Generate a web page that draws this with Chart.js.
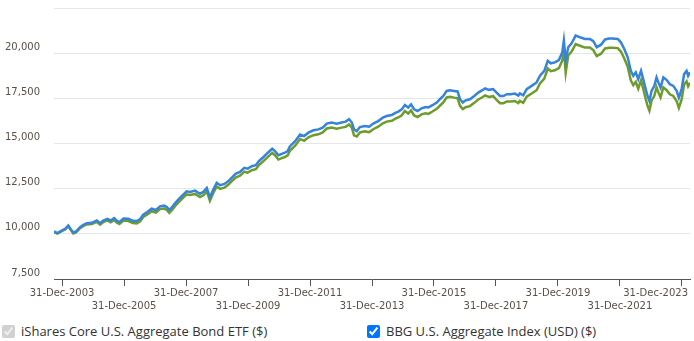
<!DOCTYPE html>
<html>
<head>
<meta charset="utf-8">
<script src="https://cdn.jsdelivr.net/npm/chart.js@4/dist/chart.umd.min.js"></script>
<style>
  body { margin: 0; background: #fff; }
  #wrap { position: relative; width: 694px; height: 318px; }
  .legend-item {
    position: absolute; top: 322px; display: flex; align-items: center;
    font: 13px "Open Sans", sans-serif; color: #333; white-space: nowrap;
  }
  .legend-item input { margin: 0 6px 0 0; width: 13px; height: 13px; }
</style>
</head>
<body>
<div id="wrap"><canvas id="growthChart"></canvas></div>
<label class="legend-item" style="left:2px"><input type="checkbox" checked disabled>iShares Core U.S. Aggregate Bond ETF ($)</label>
<label class="legend-item" style="left:367px"><input type="checkbox" checked>BBG U.S. Aggregate Index (USD) ($)</label>

<script>
/* Growth of 10,000 — dates as decimal years */
const dates = [
  2003.74, 2003.85, 2003.99, 2004.10, 2004.20, 2004.28, 2004.36, 2004.45, 2004.58, 2004.69,
  2004.80, 2004.96, 2005.12, 2005.23, 2005.33, 2005.46, 2005.57, 2005.68, 2005.76, 2005.85,
  2005.98, 2006.14, 2006.28, 2006.41, 2006.52, 2006.62, 2006.75, 2006.89, 2007.03, 2007.16,
  2007.29, 2007.38, 2007.46, 2007.57, 2007.65, 2007.75, 2007.91, 2008.02, 2008.13, 2008.29,
  2008.45, 2008.56, 2008.67, 2008.77, 2008.88, 2008.99, 2009.10, 2009.24, 2009.36, 2009.47,
  2009.60, 2009.74, 2009.88, 2009.99, 2010.12, 2010.25, 2010.35, 2010.49, 2010.64, 2010.78,
  2010.87, 2010.98, 2011.09, 2011.19, 2011.28, 2011.35, 2011.52, 2011.68, 2011.81, 2011.95,
  2012.11, 2012.27, 2012.41, 2012.54, 2012.70, 2012.86, 2013.02, 2013.15, 2013.26, 2013.35,
  2013.42, 2013.51, 2013.61, 2013.77, 2013.91, 2014.04, 2014.20, 2014.35, 2014.47, 2014.64,
  2014.77, 2014.85, 2014.96, 2015.06, 2015.17, 2015.26, 2015.36, 2015.47, 2015.60, 2015.73,
  2015.82, 2015.95, 2016.09, 2016.19, 2016.30, 2016.41, 2016.52, 2016.65, 2016.76, 2016.84,
  2016.93, 2017.02, 2017.16, 2017.30, 2017.43, 2017.56, 2017.65, 2017.77, 2017.91, 2018.02,
  2018.13, 2018.24, 2018.35, 2018.48, 2018.61, 2018.72, 2018.77, 2018.88, 2018.99, 2019.15,
  2019.31, 2019.42, 2019.56, 2019.67, 2019.77, 2019.90, 2020.03, 2020.14, 2020.19, 2020.25,
  2020.33, 2020.44, 2020.57, 2020.71, 2020.87, 2021.03, 2021.14, 2021.25, 2021.39, 2021.52,
  2021.65, 2021.75, 2021.93, 2022.03, 2022.14, 2022.25, 2022.35, 2022.43, 2022.51, 2022.59,
  2022.68, 2022.75, 2022.83, 2022.89, 2022.95, 2023.02, 2023.11, 2023.18, 2023.24, 2023.31,
  2023.40, 2023.51, 2023.61, 2023.72, 2023.83, 2023.90, 2023.99, 2024.07, 2024.15, 2024.20,
  2024.26
];

// BBG U.S. Aggregate Index (USD) — blue line
const indexValues = [
  10130, 10040, 10180, 10280, 10460, 10260, 10070, 10130, 10370, 10500,
  10590, 10610, 10740, 10590, 10740, 10830, 10740, 10870, 10740, 10650,
  10850, 10830, 10720, 10710, 10820, 11060, 11210, 11390, 11320, 11520,
  11560, 11480, 11320, 11520, 11700, 11890, 12170, 12350, 12320, 12390,
  12220, 12320, 12540, 12020, 12450, 12820, 12690, 12760, 12910, 13100,
  13320, 13430, 13650, 13610, 13740, 13800, 14020, 14240, 14490, 14710,
  14580, 14350, 14430, 14490, 14580, 14840, 15130, 15500, 15410, 15600,
  15730, 15780, 15880, 16100, 16160, 16100, 16160, 16210, 16340, 16160,
  15780, 15690, 15910, 15970, 15930, 16100, 16240, 16430, 16520, 16580,
  16710, 16770, 16890, 17130, 16990, 17170, 16890, 16800, 16950, 17020,
  16990, 17120, 17270, 17450, 17630, 17910, 17950, 17910, 17880, 17450,
  17270, 17390, 17450, 17630, 17820, 17950, 18050, 17970, 18010, 17820,
  17630, 17630, 17730, 17730, 17760, 17650, 17770, 17670, 18010, 18190,
  18380, 18750, 19020, 19580, 19440, 19490, 19620, 20050, 20690, 19580,
  20330, 20550, 20970, 20880, 20790, 20790, 20660, 20330, 20470, 20760,
  20810, 20810, 20790, 20600, 20230, 19770, 19020, 18750, 18940, 18560,
  19020, 18560, 18010, 17630, 17360, 17910, 18190, 18660, 18380, 18100,
  18660, 18510, 18280, 18190, 17910, 17540, 18010, 18840, 19020, 18750,
  18940
];

// iShares Core U.S. Aggregate Bond ETF — green line
const fundValues = [
  10100, 10010, 10150, 10240, 10420, 10220, 10020, 10080, 10310, 10440,
  10520, 10540, 10660, 10510, 10650, 10740, 10640, 10770, 10630, 10540,
  10740, 10710, 10600, 10580, 10690, 10930, 11070, 11250, 11170, 11370,
  11400, 11320, 11160, 11360, 11540, 11720, 12000, 12180, 12150, 12210,
  12030, 12130, 12350, 11830, 12260, 12620, 12490, 12560, 12710, 12900,
  13110, 13220, 13440, 13390, 13520, 13580, 13800, 14010, 14260, 14480,
  14350, 14110, 14190, 14250, 14340, 14600, 14880, 15250, 15150, 15340,
  15460, 15510, 15610, 15830, 15880, 15820, 15880, 15920, 16050, 15870,
  15450, 15390, 15610, 15670, 15630, 15790, 15930, 16120, 16210, 16260,
  16390, 16440, 16560, 16800, 16660, 16830, 16550, 16460, 16610, 16670,
  16640, 16770, 16920, 17090, 17270, 17550, 17590, 17540, 17510, 17080,
  16900, 17010, 17070, 17250, 17440, 17560, 17660, 17580, 17620, 17420,
  17230, 17230, 17330, 17320, 17350, 17240, 17360, 17250, 17590, 17770,
  17950, 18320, 18590, 19150, 19000, 19050, 19170, 19600, 20250, 18930,
  19870, 20090, 20500, 20410, 20310, 20310, 20170, 19840, 19970, 20260,
  20300, 20300, 20280, 20090, 19710, 19250, 18500, 18230, 18410, 18030,
  18490, 18030, 17470, 17090, 16820, 17370, 17640, 18110, 17830, 17550,
  18100, 17950, 17720, 17630, 17340, 16970, 17440, 18270, 18440, 18170,
  18360
];

// x-axis ticks (year-end positions) and their labels
const tickYears  = [2004, 2006, 2008, 2010, 2012, 2014, 2016, 2018, 2020, 2022, 2024];
const tickLabels = ['31-Dec-2003', '31-Dec-2005', '31-Dec-2007', '31-Dec-2009', '31-Dec-2011',
                    '31-Dec-2013', '31-Dec-2015', '31-Dec-2017', '31-Dec-2019', '31-Dec-2021',
                    '31-Dec-2023'];

const LABEL_COLOR = '#5b5048';
const AXIS_FONT = { family: "'DejaVu Sans', sans-serif", size: 10 };

// staggered x labels, the last one pushed back inside the canvas
const staggeredLabels = {
  id: 'staggeredLabels',
  afterDraw(chart) {
    const scale = chart.scales.x;
    const ctx = chart.ctx;
    ctx.save();
    ctx.font = "10px 'DejaVu Sans', sans-serif";
    ctx.fillStyle = LABEL_COLOR;
    ctx.textAlign = 'center';
    ctx.textBaseline = 'middle';
    tickYears.forEach((v, i) => {
      const text = tickLabels[i];
      const w = ctx.measureText(text).width;
      let x = scale.getPixelForValue(v);
      x = Math.min(x, chart.width - 6 - w / 2);
      const y = scale.top + (i % 2 === 0 ? 14 : 27);
      ctx.fillText(text, x, y);
    });
    ctx.restore();
  }
};

const toPoints = values => dates.map((d, i) => ({ x: d, y: values[i] }));

new Chart(document.getElementById('growthChart'), {
  type: 'line',
  data: {
    datasets: [
      {
        label: 'BBG U.S. Aggregate Index (USD) ($)',
        data: toPoints(indexValues),
        borderColor: '#3583db',
        borderWidth: 2.5,
        pointRadius: 0,
        tension: 0,
      },
      {
        label: 'iShares Core U.S. Aggregate Bond ETF ($)',
        data: toPoints(fundValues),
        borderColor: '#6e9c2c',
        borderWidth: 2.5,
        pointRadius: 0,
        tension: 0,
      },
    ],
  },
  options: {
    responsive: true,
    maintainAspectRatio: false,
    animation: false,
    layout: { padding: { top: 8, right: 4, bottom: 0, left: 0 } },
    plugins: {
      legend: { display: false },
      tooltip: { enabled: false },
    },
    scales: {
      x: {
        type: 'linear',
        min: 2003.74,
        max: 2024.26,
        afterBuildTicks: scale => { scale.ticks = tickYears.map(v => ({ value: v })); },
        afterFit: scale => { scale.height = 39; },
        ticks: { display: false },
        grid: { drawOnChartArea: false, drawTicks: true, tickLength: 7, color: '#555' },
        border: { display: true, color: '#555', width: 1 },
      },
      y: {
        min: 7500,
        max: 22500,
        afterFit: scale => { scale.width = 54; scale.paddingTop = 0; scale.paddingBottom = 0; },
        ticks: {
          stepSize: 2500,
          padding: 14,
          labelOffset: -6,
          color: LABEL_COLOR,
          font: AXIS_FONT,
          callback: v => (v === 22500 ? '' : v.toLocaleString('en-US')),
        },
        grid: { color: '#e6e6e6', drawTicks: false },
        border: { display: false },
      },
    },
  },
  plugins: [staggeredLabels],
});
</script>
</body>
</html>
